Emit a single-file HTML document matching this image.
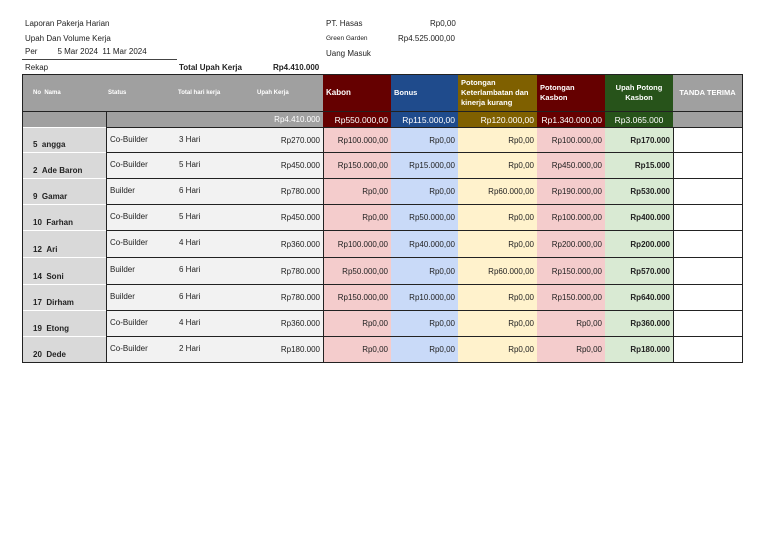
<!DOCTYPE html>
<html><head><meta charset="utf-8"><style>
body{margin:0;width:768px;height:543px;background:#fff;font-family:"Liberation Sans",sans-serif;position:relative;overflow:hidden;color:#222}
.t{position:absolute;font-size:8px;white-space:nowrap}
.c{position:absolute;box-sizing:border-box;font-size:8px;white-space:nowrap;display:flex;align-items:center;padding:0 3px}
.r{justify-content:flex-end}
.ctr{justify-content:center;text-align:center}
.w{color:#fff}
.b{font-weight:bold}
</style></head><body>
<div class="t" style="left:25px;top:19px">Laporan Pakerja Harian</div>
<div class="t" style="left:25px;top:34px">Upah Dan Volume Kerja</div>
<div class="t" style="left:25px;top:47px">Per&nbsp;&nbsp;&nbsp;&nbsp;&nbsp;&nbsp;&nbsp;&nbsp;&nbsp;5 Mar 2024&nbsp;&nbsp;11 Mar 2024</div>
<div style="position:absolute;left:22px;top:59px;width:155px;height:1px;background:#444"></div>
<div class="t" style="left:25px;top:63px">Rekap</div>
<div class="t b" style="left:179px;top:63px">Total Upah Kerja</div>
<div class="t b" style="left:273px;top:63px">Rp4.410.000</div>
<div class="t" style="left:326px;top:19px">PT. Hasas</div>
<div class="t" style="left:326px;top:35px;font-size:6.5px">Green Garden</div>
<div class="t" style="left:326px;top:49px">Uang Masuk</div>
<div class="t" style="left:430px;top:19px">Rp0,00</div>
<div class="t" style="left:398px;top:34px">Rp4.525.000,00</div>
<div style="position:absolute;left:22px;top:74px;width:721px;height:289px;border:1px solid #222;box-sizing:border-box"></div>
<div id="tb"></div>
<script>
var X=[23,106,175,250,323,391,458,537,605,673,742];
var H=[
["No&nbsp;&nbsp;Nama","#a0a0a0",0,6,1],
["Status","#a0a0a0",0,6,1],
["Total hari kerja","#a0a0a0",0,6,1],
["Upah Kerja","#a0a0a0",0,6,1],
["Kabon","#650000",0,8,1],
["Bonus","#1f4b8c",0,7.5,1],
["Potongan<br>Keterlambatan dan<br>kinerja kurang","#7f6000",0,7.5,1],
["Potongan<br>Kasbon","#650000",0,7.5,1],
["Upah Potong<br>Kasbon","#27531a",1,7.5,1],
["TANDA TERIMA","#a0a0a0",1,7.5,1]];
var PL=[10,2,3,7];
var html="";
function cell(i,y,h,bg,txt,cls,st){html+='<div class="c '+(cls||'')+'" style="left:'+X[i]+'px;top:'+y+'px;width:'+(X[i+1]-X[i])+'px;height:'+h+'px;background:'+bg+';'+(st||'')+'">'+txt+'</div>';}
H.forEach(function(h,i){cell(i,75,36,h[1],h[0],'w b'+(h[2]?' ctr':''),'font-size:'+h[3]+'px;line-height:1.35;'+(i<4?'font-size:6px;padding-left:'+PL[i]+'px;':''))});
var S=["","","","Rp4.410.000","Rp550.000,00","Rp115.000,00","Rp120.000,00","Rp1.340.000,00","Rp3.065.000",""];
var SB=["#a0a0a0","#a0a0a0","#a0a0a0","#a0a0a0","#650000","#1f4b8c","#7f6000","#650000","#27531a","#a0a0a0"];
S.forEach(function(s,i){cell(i,111,16,SB[i],s,'w '+(i==8?'ctr':'r'),'border-top:1px solid #222;'+(i>=4?'font-size:8.5px;':''))});
var R=[["5&nbsp;&nbsp;angga","Co-Builder","3 Hari","Rp270.000","Rp100.000,00","Rp0,00","Rp0,00","Rp100.000,00","Rp170.000"],
["2&nbsp;&nbsp;Ade Baron","Co-Builder","5 Hari","Rp450.000","Rp150.000,00","Rp15.000,00","Rp0,00","Rp450.000,00","Rp15.000"],
["9&nbsp;&nbsp;Gamar","Builder","6 Hari","Rp780.000","Rp0,00","Rp0,00","Rp60.000,00","Rp190.000,00","Rp530.000"],
["10&nbsp;&nbsp;Farhan","Co-Builder","5 Hari","Rp450.000","Rp0,00","Rp50.000,00","Rp0,00","Rp100.000,00","Rp400.000"],
["12&nbsp;&nbsp;Ari","Co-Builder","4 Hari","Rp360.000","Rp100.000,00","Rp40.000,00","Rp0,00","Rp200.000,00","Rp200.000"],
["14&nbsp;&nbsp;Soni","Builder","6 Hari","Rp780.000","Rp50.000,00","Rp0,00","Rp60.000,00","Rp150.000,00","Rp570.000"],
["17&nbsp;&nbsp;Dirham","Builder","6 Hari","Rp780.000","Rp150.000,00","Rp10.000,00","Rp0,00","Rp150.000,00","Rp640.000"],
["19&nbsp;&nbsp;Etong","Co-Builder","4 Hari","Rp360.000","Rp0,00","Rp0,00","Rp0,00","Rp0,00","Rp360.000"],
["20&nbsp;&nbsp;Dede","Co-Builder","2 Hari","Rp180.000","Rp0,00","Rp0,00","Rp0,00","Rp0,00","Rp180.000"]];
var Y=[127,152,178,204,230,257,284,310,336,362];
var BG=["#d9d9d9","#f2f2f2","#f2f2f2","#f2f2f2","#f4cccc","#c9daf8","#fff2cc","#f4cccc","#d9ead3","#fff"];
R.forEach(function(r,j){var y=Y[j],h=Y[j+1]-y;
 cell(0,y,h,BG[0],r[0],'b','align-items:flex-end;padding:0 0 3px 10px;border-top:1px solid #fff;');
 for(var i=1;i<10;i++){var t=i<9?r[i]:"";var bd='border-top:1px solid #222;';
  if(i==1||i==4||i==9) bd+='border-left:1px solid #222;';
  cell(i,y,h,BG[i],t,(i>=3?'r':'')+(i==8?' b':''),bd+(i<3?'align-items:flex-start;padding-top:7px;':'')+(i==2?'padding-left:4px;':''));}
});
document.getElementById('tb').outerHTML=html;
</script>
<div style="position:absolute;left:106px;top:111px;width:1px;height:251px;background:#222"></div>
</body></html>
